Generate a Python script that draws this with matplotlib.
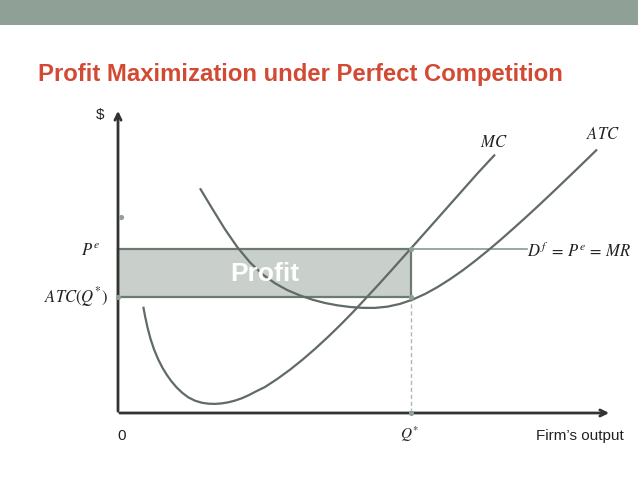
import matplotlib
matplotlib.use("Agg")
import matplotlib.pyplot as plt
from matplotlib.patches import Rectangle

plt.rcParams['mathtext.fontset'] = 'stix'

# chart coordinates (pixels, y downwards)
title = "Profit Maximization under Perfect Competition"

origin = (118, 413)
y_top = 108
x_right = 612

q_star = 411
p_e = 249
atc_q = 297

mc_x = [143.3, 145, 147.5, 150.5, 154, 158.3, 162.5, 166.7, 171.5, 176.7, 182.5, 188.3, 195,
        201.7, 208.3, 215, 221.7, 228.3, 235, 241.7, 248.3, 255, 265, 277.5, 290, 302.5, 315,
        327.5, 340, 352.5, 365, 377.5, 390, 402.5, 415, 427.5, 440, 452.5, 465, 477.5, 490, 495]
mc_y = [306.7, 315.9, 327.4, 338.8, 349.3, 359.6, 367.8, 374.7, 381.4, 387.5, 393.0, 397.35,
        400.7, 402.7, 403.7, 403.9, 403.4, 402.3, 400.6, 398.3, 395.4, 391.9, 387.0, 378.8,
        369.7, 359.7, 348.9, 337.4, 325.3, 312.6, 299.2, 285.7, 271.9, 257.9, 243.9, 229.8,
        215.7, 201.6, 187.5, 173.4, 159.9, 154.6]

atc_x = [200, 212.5, 225, 237.5, 250, 262.5, 275, 287.5, 300, 312.5, 325, 337.5, 350, 362.5,
         375, 387.5, 400, 412.5, 425, 437.5, 450, 462.5, 475, 487.5, 500, 512.5, 525, 537.5,
         550, 562.5, 575, 587.5, 597]
atc_y = [188.3, 209.05, 229.3, 247.4, 262.4, 274.3, 283.3, 290.2, 295.45, 299.7, 303.0, 305.35,
         306.97, 307.85, 307.9, 306.65, 303.9, 299.65, 294.0, 287.1, 279.2, 270.5, 261.0, 250.9,
         240.3, 229.3, 218.05, 206.55, 194.8, 182.9, 170.9, 158.8, 149.5]

demand_end = 527
extra_tick = (121, 217)

curve_col = '#5f6b64'
axis_col = '#333333'
dot_col = '#8fa095'
label_col = '#222222'

fig = plt.figure(figsize=(6.38, 4.78), dpi=100)
ax = fig.add_axes([0, 0, 1, 1])
ax.set_xlim(0, 638)
ax.set_ylim(478, 0)
ax.axis('off')

# top band
ax.add_patch(Rectangle((0, 0), 638, 25, color='#8fa096', lw=0, zorder=0))

# title, sized so it spans the same width as on the slide
t = ax.text(38, 81, title, color='#d24a33', fontweight='bold',
            family='Liberation Sans', fontsize=17, va='baseline', ha='left')
fig.canvas.draw()
w = t.get_window_extent().width
t.set_fontsize(17 * 525 / w)

# profit rectangle
ax.add_patch(Rectangle((origin[0], p_e), q_star - origin[0], atc_q - p_e,
                       facecolor='#c9cfcb', edgecolor='#6d7a72', lw=1.6, zorder=1))
ax.text((origin[0] + q_star) / 2, 274, 'Profit', color='white', fontsize=19,
        fontweight='bold', family='Liberation Sans', ha='center', va='center', zorder=3)

# demand line and the dashed drop to Q*
ax.plot([q_star, demand_end], [p_e, p_e], color='#8a9a90', lw=1.2, zorder=1)
ax.plot([q_star, q_star], [atc_q, origin[1]], color='#b0b8b3', lw=1, ls=(0, (3, 2)), zorder=1)

# cost curves
for xs, ys in ((mc_x, mc_y), (atc_x, atc_y)):
    ax.plot(xs, ys, color=curve_col, lw=1.6, zorder=2,
            solid_capstyle='butt', solid_joinstyle='round')

# axes with arrows
arrow = dict(arrowstyle='->,head_length=0.45,head_width=0.22', color=axis_col, lw=2)
ax.annotate('', xy=(origin[0], y_top), xytext=(origin[0], origin[1] + 1), arrowprops=arrow)
ax.annotate('', xy=(x_right, origin[1]), xytext=(origin[0] - 1, origin[1]), arrowprops=arrow)

# dots
ax.scatter([extra_tick[0], origin[0], q_star, q_star, q_star],
           [extra_tick[1], atc_q, p_e, atc_q, origin[1]],
           s=14, color=dot_col, zorder=4, lw=0)

# labels
ax.text(100, 115, '$', fontsize=11, family='Liberation Sans', ha='center', va='center', color=label_col)
ax.text(122, 436, '0', fontsize=11, family='Liberation Sans', ha='center', va='center', color=label_col)
ax.text(624, 436, "Firm\u2019s output", fontsize=11, family='Liberation Sans',
        ha='right', va='center', color=label_col)
ax.text(410, 434, r'$Q^{*}$', fontsize=11, ha='center', va='center', color=label_col)
ax.text(100, 250, r'$P^{e}$', fontsize=12, ha='right', va='center', color=label_col)
ax.text(108, 297, r'$ATC(Q^{*})$', fontsize=12, ha='right', va='center', color=label_col)
ax.text(494, 142, r'$MC$', fontsize=12, ha='center', va='center', color=label_col)
ax.text(603, 134, r'$ATC$', fontsize=12, ha='center', va='center', color=label_col)
ax.text(527, 252, r'$D^{f}\,\,=\,P^{e}\,=\,MR$', fontsize=12, ha='left', va='center', color=label_col)

fig.savefig('out.png', dpi=100)
